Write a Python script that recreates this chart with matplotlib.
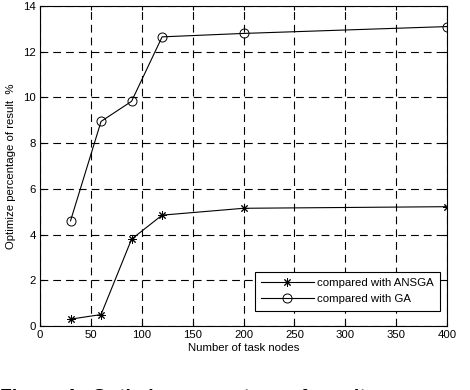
import matplotlib
matplotlib.use("Agg")
import matplotlib.pyplot as plt

nodes = [30, 60, 90, 120, 200, 400]
ansga = [0.3, 0.5, 3.8, 4.85, 5.15, 5.22]
ga = [4.6, 8.95, 9.83, 12.65, 12.8, 13.1]
xticks = [0, 50, 100, 150, 200, 250, 300, 350, 400]
yticks = [0, 2, 4, 6, 8, 10, 12, 14]

plt.rcParams['font.family'] = ['Liberation Sans', 'DejaVu Sans']
fig = plt.figure(figsize=(4.7, 3.9), dpi=100)
ax = fig.add_axes([40/470, 1 - 326/390, 407/470, 320/390])

ax.plot(nodes, ansga, color='black', lw=0.8, marker=(8, 2, 0), ms=6, mew=0.7,
        label='compared with ANSGA')
ax.plot(nodes, ga, color='black', lw=0.8, marker='o', ms=6.5, mfc='none', mew=0.7,
        label='compared with GA')

ax.set_xlim(0, 400)
ax.set_ylim(0, 14)
ax.set_xticks(xticks)
ax.set_yticks(yticks)
ax.grid(True, color='black', linestyle=(0, (7, 4.5)), lw=0.8)
ax.tick_params(direction='in', top=True, right=True, labelsize=8.2, length=3, pad=3)
for s in ax.spines.values():
    s.set_linewidth(0.8)

ax.set_xlabel('Number of task nodes', fontsize=8.2, labelpad=2)
ax.set_ylabel('Optimize percentage of result  %', fontsize=8.2, labelpad=5)

leg = ax.legend(loc='lower right', bbox_to_anchor=(0.997, 0.03), fontsize=8.2,
                handlelength=4.6, fancybox=False, framealpha=1, edgecolor='black',
                borderpad=0.55, labelspacing=0.55, handletextpad=0.3)
leg.get_frame().set_linewidth(0.8)

fig.text(0.0, 1 - 389.5/390, 'Figure 4.  Optimize percentage of result', fontsize=14,
         fontweight='bold', va='top', ha='left')

fig.savefig('out.png', dpi=100)
